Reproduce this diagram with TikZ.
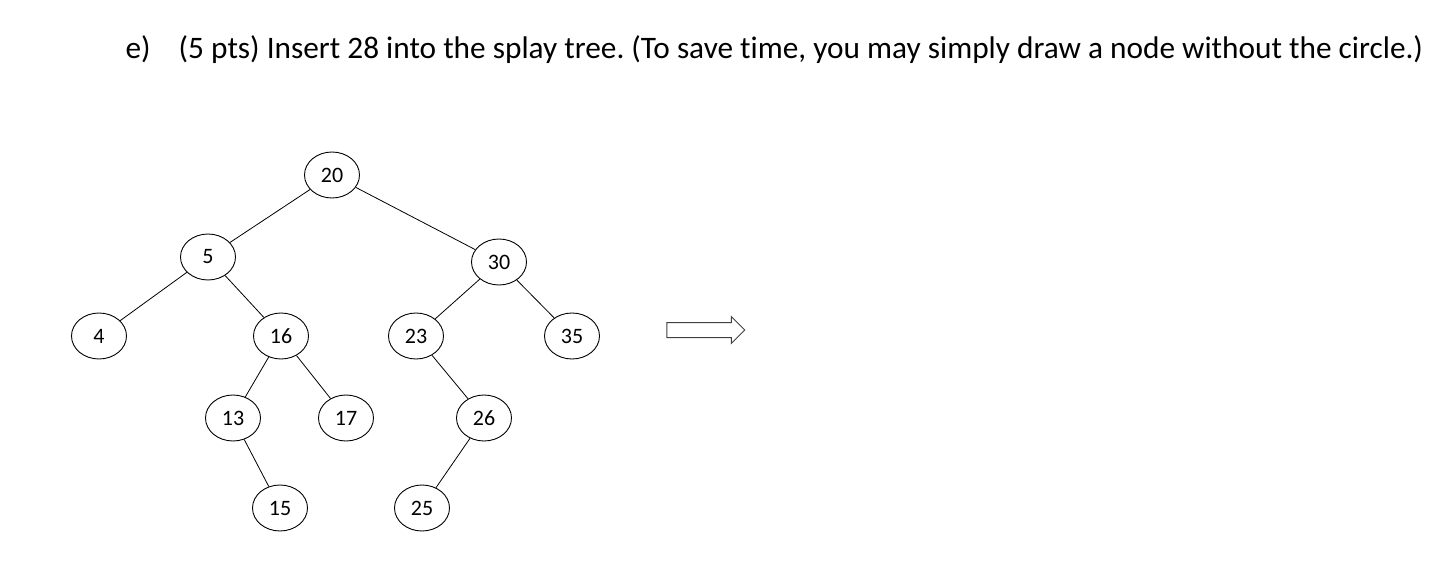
\documentclass[tikz,border=0pt]{standalone}
\usepackage{fontspec}
\setmainfont{Carlito}[Ligatures=NoCommon]
\usetikzlibrary{shapes,arrows}

\begin{document}
\frenchspacing
\begin{tikzpicture}[x=1pt,y=-1pt]
			\tikzset{
				key/.style={ellipse, draw=black, line width=0.9pt, minimum width=55pt, minimum height=46pt, inner sep=0pt, font=\fontsize{22}{26}\selectfont},
				edge/.style={draw=black, line width=0.8pt},
				step arrow/.style={single arrow, draw=black!75, line width=1pt, minimum height=78pt, minimum width=26pt, single arrow head extend=6pt, inner xsep=0pt, inner ysep=7pt, single arrow tip angle=90},
			}
			\useasboundingbox (0,0) rectangle (1441,588);
			\node[anchor=base west, font=\fontsize{31.3}{36}\selectfont] (title) at (122,59) {e)\hspace{0.9em}(5 pts) Insert 28 into the splay tree. (To save time, you may simply draw a node without the circle.)};
			\node[key] (n20) at (332,175) {20};
			\node[key] (n5) at (208,257) {5};
			\node[key] (n30) at (499,262) {30};
			\node[key] (n4) at (99,336) {4};
			\node[key] (n16) at (281,336) {16};
			\node[key] (n23) at (416,336) {23};
			\node[key] (n35) at (572,336) {35};
			\node[key] (n13) at (233,418) {13};
			\node[key] (n17) at (346,418) {17};
			\node[key] (n26) at (484,418) {26};
			\node[key] (n15) at (280,508) {15};
			\node[key] (n25) at (422,508) {25};
			\node[step arrow] (next) at (702,330) {};
			%draw edges
			\draw[edge] (n20) -- (n5);
			\draw[edge] (n20) -- (n30);
			\draw[edge] (n5) -- (n4);
			\draw[edge] (n5) -- (n16);
			\draw[edge] (n16) -- (n13);
			\draw[edge] (n16) -- (n17);
			\draw[edge] (n13) -- (n15);
			\draw[edge] (n30) -- (n23);
			\draw[edge] (n30) -- (n35);
			\draw[edge] (n23) -- (n26);
			\draw[edge] (n26) -- (n25);
		\end{tikzpicture}
\end{document}
